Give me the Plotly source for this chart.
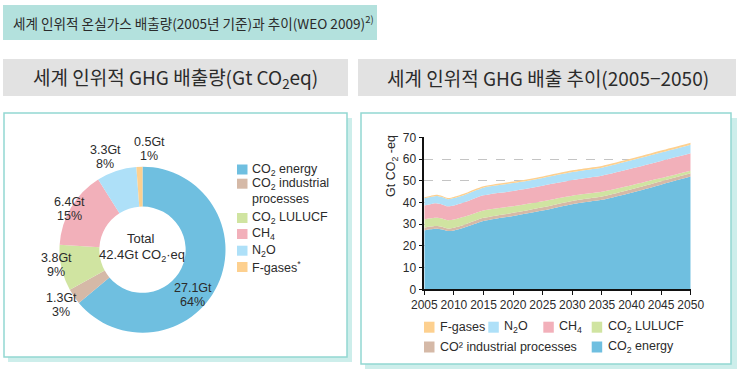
import plotly.graph_objects as go

W, H = 740, 377

# ---------------- data ----------------
# Donut: world anthropogenic GHG emissions, 2005 (Gt CO2-eq)
source_names = ["CO₂ energy", "CO₂ industrial processes", "CO₂ LULUCF", "CH₄", "N₂O", "F-gases*"]
emissions_2005 = [27.1, 1.3, 3.8, 6.4, 3.3, 0.5]
donut_legend_labels = ["CO<sub>2</sub> energy", "CO<sub>2</sub> industrial<br>processes",
                       "CO<sub>2</sub> LULUCF", "CH<sub>4</sub>", "N<sub>2</sub>O", "F-gases<sup>*</sup>"]

# Stacked area: emissions trend 2005-2050 (Gt CO2-eq)
years = [2005, 2006, 2007, 2008, 2009, 2010, 2012, 2015, 2020, 2025, 2030, 2033, 2035, 2040, 2045, 2050]
co2_energy = [27.1, 27.6, 27.9, 27.5, 26.8, 27.1, 28.7, 31.5, 33.8, 36.3, 39.2, 40.4, 41.2, 44.5, 48.2, 51.9]
co2_industrial = [1.3, 1.3, 1.3, 1.3, 1.2, 1.3, 1.3, 1.4, 1.4, 1.5, 1.5, 1.5, 1.5, 1.6, 1.6, 1.6]
co2_lulucf = [3.8, 3.8, 3.8, 3.8, 3.8, 3.7, 3.6, 3.4, 3.1, 2.8, 2.4, 2.3, 2.2, 1.8, 1.4, 1.1]
ch4 = [6.4, 6.5, 6.6, 6.5, 6.4, 6.5, 6.7, 7.0, 7.0, 7.1, 7.2, 7.3, 7.4, 7.7, 7.9, 8.0]
n2o = [3.3, 3.3, 3.4, 3.4, 3.3, 3.4, 3.4, 3.5, 3.6, 3.6, 3.7, 3.7, 3.7, 3.8, 3.9, 4.0]
f_gases = [0.5, 0.5, 0.5, 0.5, 0.5, 0.5, 0.6, 0.6, 0.7, 0.7, 0.8, 0.8, 0.8, 0.8, 0.9, 0.9]
area_series = [co2_energy, co2_industrial, co2_lulucf, ch4, n2o, f_gases]

x_tick_years = [2005, 2010, 2015, 2020, 2025, 2030, 2035, 2040, 2045, 2050]

# ---------------- style ----------------
colors = ["#6fbfe0", "#d5b9a7", "#d0e4a1", "#f2b0ba", "#aee0f8", "#fdd08f"]
KR = "Noto Sans CJK KR, Noto Sans, sans-serif"
LAT = "Liberation Sans, Arial, sans-serif"
TXT = "#2b2b2b"


def px(x):
    return x / W


def py(y):
    return 1 - y / H


fig = go.Figure()

# donut
cx, cy, R = 142.5, 249.7, 83
fig.add_trace(go.Pie(
    labels=source_names,
    values=emissions_2005,
    sort=False,
    direction="clockwise",
    rotation=0,
    hole=0.52,
    marker=dict(colors=colors, line=dict(width=0)),
    textinfo="none",
    domain=dict(x=[px(cx - R), px(cx + R)], y=[py(cy + R), py(cy - R)]),
    showlegend=False,
    hoverinfo="label+value+percent",
))

# stacked areas
for name, vals, col in zip(source_names, area_series, colors):
    fig.add_trace(go.Scatter(
        x=years, y=vals, name=name, stackgroup="ghg", mode="none",
        fillcolor=col, line=dict(shape="spline", smoothing=0.7),
        showlegend=False, xaxis="x", yaxis="y",
    ))

shapes = []


def rect(x0, y0, x1, y1, fill, line_col=None, lw=0):
    shapes.append(dict(type="rect", xref="paper", yref="paper", layer="below",
                       x0=px(x0), x1=px(x1), y0=py(y1), y1=py(y0),
                       fillcolor=fill,
                       line=dict(color=line_col or fill, width=lw)))


# title bar & headers
rect(3, 5, 377, 40, "#b3e1dd")
rect(3, 59, 348, 96, "#e2e2e2")
rect(358, 59, 736, 96, "#e2e2e2")
# panels with shadow
rect(8, 118, 352, 362, "#cdeeeb")
rect(4, 113, 347, 357, "#ffffff", "#93d8d2", 1.5)
rect(365, 118, 737, 369, "#cdeeeb")
rect(361, 113, 731, 364, "#ffffff", "#93d8d2", 1.5)

annotations = []


def text(x, y, s, size=12.5, family=LAT, xanchor="left", yanchor="middle", align="left", **kw):
    annotations.append(dict(xref="paper", yref="paper", x=px(x), y=py(y), text=s,
                            showarrow=False, xanchor=xanchor, yanchor=yanchor, align=align,
                            font=dict(family=family, size=size, color=TXT), **kw))


text(11, 22.5, "세계 인위적 온실가스 배출량(2005년 기준)과 추이(WEO 2009)<sup>2)</sup>", size=13.6, family=KR)
text(175.5, 78, "세계 인위적 GHG 배출량(Gt CO<sub>2</sub>eq)", size=19, family=KR, xanchor="center")
text(548, 78, "세계 인위적 GHG 배출 추이(2005−2050)", size=19, family=KR, xanchor="center")

# donut centre
total = sum(emissions_2005)
text(cx - 2, 238.5, "Total", size=13, xanchor="center")
text(cx - 1, 255, f"{total:.1f}Gt CO<sub>2</sub>·eq", size=13, xanchor="center")

# donut slice labels (value and share computed from the data)
label_anchor = [(192.5, 295), (61, 305), (56, 265), (69, 209), (105, 156.7), (149, 148.8)]
for v, (lx, ly) in zip(emissions_2005, label_anchor):
    text(lx, ly - 7.0, f"{v}Gt", size=12.5, xanchor="center")
    text(lx, ly + 7.0, f"{round(100 * v / total)}%", size=12.5, xanchor="center")

# donut legend (manual)
leg_rows = [169.5, 190.7, 218, 234, 250.7, 267]
for lab, col, yy in zip(donut_legend_labels, colors, leg_rows):
    sy = yy if "<br>" not in lab else 183.7
    shapes.append(dict(type="rect", xref="paper", yref="paper", x0=px(237), x1=px(247.5),
                       y0=py(sy + 5), y1=py(sy - 5), fillcolor=col, line=dict(width=0)))
    text(250, yy, lab)

# area legend (manual)
area_leg_labels = {5: "F-gases", 4: "N<sub>2</sub>O", 3: "CH<sub>4</sub>", 2: "CO<sub>2</sub> LULUCF",
                   1: "CO² industrial processes", 0: "CO<sub>2</sub> energy"}
area_leg_pos = {5: (424, 327.2), 4: (488.3, 327.2), 3: (543.3, 327.2), 2: (591.7, 327.2),
                1: (424, 347), 0: (591.7, 347)}
for idx, (lx, ly) in area_leg_pos.items():
    shapes.append(dict(type="rect", xref="paper", yref="paper", x0=px(lx), x1=px(lx + 10.5),
                       y0=py(ly + 5.5), y1=py(ly - 5.5), fillcolor=colors[idx], line=dict(width=0)))
    text(lx + 14, ly, area_leg_labels[idx])

# y-axis title
text(392, 166, "Gt CO<sub>2</sub> -eq", size=12.5, xanchor="center", textangle=-90)

fig.update_layout(
    width=W, height=H, autosize=False,
    margin=dict(l=0, r=0, t=0, b=0),
    paper_bgcolor="white", plot_bgcolor="rgba(0,0,0,0)",
    shapes=shapes, annotations=annotations,
    xaxis=dict(domain=[px(424.3), px(690.7)], range=[2005, 2050], tickvals=x_tick_years,
               ticks="outside", ticklen=4, tickwidth=1.2, tickcolor="#111", tickangle=0,
               showline=True, linecolor="#111", linewidth=1.5, showgrid=False, zeroline=False,
               automargin=False,
               tickfont=dict(family=LAT, size=12, color=TXT), fixedrange=True),
    yaxis=dict(domain=[py(289.3), py(137.3)], range=[0, 70], dtick=10,
               ticks="outside", ticklen=4, tickwidth=1.2, tickcolor="#111",
               showline=True, linecolor="#111", linewidth=1.5, automargin=False,
               showgrid=True, gridcolor="#c4c4c4", griddash="dash", gridwidth=1, zeroline=False,
               tickfont=dict(family=LAT, size=12, color=TXT), fixedrange=True),
    showlegend=False,
)

fig.write_html("out.html",
               config={"displayModeBar": False},
               post_script="document.body.style.margin='0';document.body.style.overflow='hidden';")
